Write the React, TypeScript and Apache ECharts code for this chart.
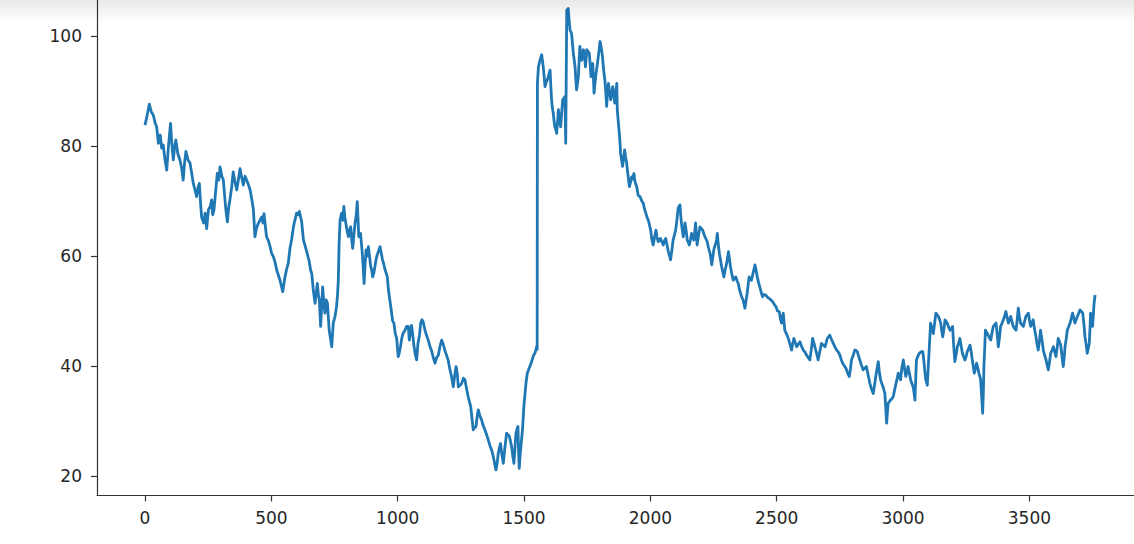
import React, { useEffect, useRef } from "react";
import * as echarts from "echarts";

// [x, y] readings of the price series, split by period
const period1: number[][] = [[0,83.8],[8,85.5],[17,87.6],[25,86.2],[33,85.6],[40,84.2],[46,83.5],[53,80.5],[60,82.0],[66,79.6],[72,80.2],[79,77.5],[86,75.6],[93,80.0],[101,84.1],[106,80.5],[112,77.5],[117,79.8],[122,81.1],[130,78.6],[138,77.5],[145,76.0],[151,73.8],[157,77.2],[162,79.0],[170,77.5],[178,76.9],[185,75.0],[191,73.2],[198,72.0],[204,70.8],[210,72.5],[215,73.2],[220,69.5],[224,67.1],[232,66.0],[238,67.8],[244,65.0],[251,68.4],[258,69.0],[264,70.2],[268,67.5],[273,68.4],[280,72.0],[286,75.0],[292,73.8],[297,76.2],[304,74.5],[310,73.8],[316,70.5],[320,68.4],[326,66.2],[331,68.8],[336,70.2],[343,72.5],[349,75.3],[356,73.5],[363,72.0],[370,74.0],[376,75.9],[383,74.2],[389,72.9],[396,74.5],[402,73.8],[409,73.0],[416,72.0],[422,70.5],[429,68.4],[435,63.5],[441,65.0],[448,65.9],[455,66.5],[462,67.1],[467,66.0],[471,67.7],[476,65.5],[481,63.5],[488,62.8],[495,61.7],[501,60.5],[508,59.9],[515,58.8],[521,57.5],[528,56.5],[534,55.6],[540,54.5],[545,53.5],[550,55.0],[554,56.2],[560,57.5],[567,58.7],[574,61.5],[580,62.9],[585,64.5],[590,65.9]];
const period2: number[][] = [[600,67.8],[607,67.5],[611,68.1],[620,66.2],[627,62.9],[634,61.8],[640,60.8],[650,59.0],[655,57.5],[660,56.8],[666,53.8],[673,51.4],[678,53.5],[682,55.0],[686,53.0],[690,52.0],[695,47.2],[699,50.5],[703,54.4],[708,51.5],[712,49.6],[717,52.0],[722,51.4],[726,48.5],[729,46.5],[734,45.0],[739,43.5],[745,47.8],[752,49.0],[758,50.8],[762,53.0],[765,55.6],[768,62.0],[772,66.5],[778,67.8],[783,66.5],[787,69.0],[791,67.0],[795,65.9],[800,64.5],[805,63.5],[810,64.8],[814,65.3],[818,63.0],[822,61.4],[826,63.5],[831,65.9],[836,67.5],[840,69.9],[846,63.5],[853,64.1],[857,62.0],[861,59.9],[864,57.5],[867,55.0],[871,58.5],[875,61.1],[880,60.0],[884,61.7],[889,59.8],[893,58.1],[897,57.5],[901,56.2],[906,57.0],[910,58.1],[915,59.5],[919,60.2],[925,61.0],[930,61.7],[935,60.5],[940,59.3],[945,58.5],[950,57.5],[955,56.8],[959,56.2],[963,54.0],[967,52.6],[972,51.0],[976,49.6],[980,48.2],[985,47.8],[990,46.0],[996,45.0],[1002,41.7],[1006,42.3],[1011,43.5],[1016,45.0],[1022,46.0],[1029,46.5],[1035,47.2],[1042,47.2],[1046,44.7],[1050,46.0],[1055,47.4],[1060,45.5],[1064,43.8],[1070,42.0],[1075,41.1],[1080,44.0],[1086,45.5],[1091,47.8],[1096,48.4],[1101,48.0],[1108,46.5],[1112,45.9],[1117,45.2],[1121,44.7],[1128,43.5],[1134,42.8],[1141,41.5],[1148,40.5],[1154,41.5],[1161,42.0],[1167,43.5],[1174,44.7],[1180,44.0],[1187,42.8],[1193,42.0]];
const period3: number[][] = [[1200,41.0],[1206,39.5],[1213,38.1],[1220,36.2],[1225,38.0],[1231,39.9],[1236,38.5],[1240,36.2],[1247,36.5],[1253,36.8],[1260,37.8],[1266,37.5],[1272,36.0],[1279,34.4],[1284,33.5],[1289,32.6],[1294,30.5],[1299,28.4],[1305,28.8],[1310,29.0],[1315,31.0],[1319,32.0],[1325,31.0],[1332,30.2],[1338,29.2],[1345,28.4],[1352,27.5],[1359,26.5],[1365,25.5],[1372,24.7],[1377,23.8],[1381,22.9],[1385,22.0],[1389,21.1],[1394,22.5],[1398,24.1],[1403,25.2],[1407,25.9],[1412,24.0],[1418,22.3],[1424,25.0],[1431,27.8],[1437,27.5],[1442,27.2],[1447,26.2],[1451,25.3],[1456,23.5],[1460,22.3],[1464,25.0],[1468,27.8],[1472,28.5],[1476,29.0],[1478,25.0],[1481,21.4],[1485,24.0],[1490,26.5],[1494,28.5],[1497,30.8],[1500,33.0],[1504,35.0],[1508,37.0],[1513,38.7],[1518,39.3],[1523,39.9],[1528,40.5],[1534,41.4],[1538,42.0],[1543,42.3],[1547,43.0],[1550,43.5],[1552,43.0]];
const period4: number[][] = [[1553,91.4],[1557,94.4],[1563,95.6],[1570,96.6],[1576,94.4],[1580,92.5],[1583,90.8],[1587,91.5],[1592,92.0],[1598,93.0],[1603,93.8],[1606,91.0],[1609,88.4],[1612,87.0],[1616,85.9],[1619,84.5],[1622,83.5],[1626,83.0],[1629,82.3],[1633,84.5],[1636,86.6],[1640,85.0],[1645,83.5],[1649,86.0],[1653,88.4],[1658,88.7],[1662,89.0],[1665,80.5],[1669,104.7],[1675,105.0],[1679,102.5],[1682,101.1],[1688,100.5],[1692,98.5],[1695,96.9],[1699,95.5],[1702,94.4],[1705,92.0],[1708,90.2],[1712,91.5],[1715,92.6],[1718,95.5],[1721,98.1],[1725,96.8],[1728,95.6],[1732,96.5],[1735,97.5],[1740,96.0],[1743,94.4],[1746,96.0],[1748,97.5],[1753,97.2],[1758,96.9],[1762,94.8],[1765,92.6],[1769,94.0],[1772,95.0],[1775,92.0],[1777,89.6],[1781,91.5],[1785,93.2],[1790,94.8],[1794,96.3],[1798,97.8],[1801,99.0],[1804,98.3],[1807,97.5],[1811,96.0],[1814,94.4],[1817,93.0],[1820,92.0],[1824,89.5],[1827,87.2],[1830,89.5],[1834,91.4],[1838,90.0],[1843,88.4],[1847,89.5],[1851,90.8],[1855,89.5],[1859,87.8],[1863,89.5],[1867,91.4],[1869,86.6],[1873,84.5],[1877,82.3],[1880,80.5],[1882,78.7],[1886,77.5],[1890,76.3],[1894,77.8],[1898,79.3],[1902,78.0],[1906,76.9],[1912,74.5],[1917,72.6],[1922,73.5],[1926,74.4],[1930,74.0],[1935,75.0],[1939,73.5],[1946,72.6],[1952,71.0],[1959,70.8],[1966,70.0],[1972,69.6],[1977,68.5],[1982,67.8],[1987,67.0],[1992,66.5],[1997,65.5]];
const period5: number[][] = [[2001,64.7],[2006,63.0],[2011,62.0],[2017,63.5],[2022,64.7],[2026,63.5],[2031,62.6],[2036,63.0],[2040,63.2],[2046,62.5],[2051,62.0],[2056,62.8],[2061,63.2],[2066,62.0],[2071,60.8],[2076,60.0],[2080,59.3],[2085,61.0],[2090,62.9],[2095,63.8],[2100,64.7],[2105,66.5],[2110,68.7],[2117,69.3],[2120,67.5],[2123,66.0],[2127,64.5],[2130,63.5],[2134,64.8],[2137,66.0],[2142,64.5],[2146,62.9],[2150,62.5],[2154,62.0],[2159,63.0],[2163,64.1],[2168,63.5],[2172,62.9],[2176,64.5],[2179,66.0],[2182,64.0],[2185,62.0],[2190,63.5],[2196,65.3],[2202,65.0],[2207,64.7],[2212,64.0],[2216,63.5],[2221,63.0],[2225,62.6],[2230,61.5],[2236,60.5],[2240,59.5],[2243,58.4],[2247,59.8],[2251,61.1],[2255,61.8],[2259,62.3],[2262,63.0],[2265,64.1],[2269,62.0],[2273,60.5],[2278,59.2],[2282,58.1],[2287,57.0],[2291,56.2],[2296,57.5],[2302,58.7],[2306,59.8],[2309,60.8],[2313,59.5],[2317,58.1],[2322,56.8],[2328,55.6],[2333,56.0],[2338,56.2],[2343,55.5],[2348,55.0],[2352,54.0],[2357,53.2],[2362,52.5],[2367,52.0],[2371,51.2],[2374,50.5],[2379,52.0],[2383,53.2],[2387,54.8],[2391,56.2],[2396,55.8],[2400,55.6],[2407,57.0],[2414,58.4],[2418,57.5],[2423,56.2],[2428,55.2],[2433,54.4],[2438,53.5],[2444,52.6],[2450,53.0],[2457,52.9],[2463,52.5],[2470,52.3],[2477,52.0],[2484,51.7],[2490,51.2],[2497,50.8]];
const period6: number[][] = [[2503,50.0],[2510,49.9],[2515,48.5],[2519,47.8],[2523,49.0],[2526,49.6],[2529,48.0],[2532,46.5],[2539,45.8],[2546,45.0],[2552,44.0],[2559,42.9],[2563,44.0],[2568,45.0],[2574,44.2],[2579,43.5],[2586,44.0],[2592,44.4],[2598,43.6],[2605,42.9],[2612,42.5],[2618,42.0],[2625,41.5],[2631,41.1],[2637,43.0],[2642,45.0],[2647,44.2],[2651,43.5],[2658,42.3],[2664,41.1],[2670,42.5],[2677,44.1],[2684,43.8],[2691,43.5],[2696,44.3],[2700,45.0],[2705,45.3],[2710,45.6],[2717,44.8],[2724,44.1],[2730,43.5],[2737,42.9],[2744,42.5],[2750,42.0],[2755,41.2],[2761,40.5],[2768,40.0],[2774,39.6],[2780,38.8],[2787,38.1],[2792,39.5],[2796,41.1],[2803,42.0],[2809,42.9],[2815,42.8],[2819,42.6],[2824,41.8],[2829,41.1],[2835,40.2],[2842,39.3],[2848,39.6],[2855,39.9],[2862,38.3],[2869,36.8],[2875,35.8],[2882,35.0],[2887,36.5],[2892,38.1],[2897,39.5],[2902,40.8],[2906,39.0],[2911,37.5],[2916,36.8],[2921,36.2],[2925,35.5],[2928,35.0],[2932,32.0],[2935,29.6],[2938,31.5],[2941,33.2],[2946,33.5],[2950,33.8],[2955,34.0],[2961,34.4],[2966,35.5],[2972,36.8],[2977,37.8],[2981,38.7],[2986,38.0],[2990,37.5],[2995,39.5],[3001,41.1],[3006,39.5],[3011,38.1],[3016,39.0],[3020,39.9],[3025,38.7],[3030,37.5],[3035,36.8],[3040,36.2],[3044,35.0],[3047,33.8],[3050,37.5],[3053,41.1],[3058,41.7],[3064,42.3],[3069,42.5],[3073,42.6],[3078,42.6],[3082,41.1],[3087,38.7],[3090,37.5],[3093,37.0],[3096,36.5]];
const period7: number[][] = [[3100,40.0],[3104,43.5],[3107,46.0],[3109,47.8],[3115,46.8],[3120,45.9],[3125,47.8],[3130,49.6],[3135,49.3],[3140,49.0],[3145,48.4],[3149,47.8],[3153,46.5],[3157,45.3],[3162,46.8],[3166,48.4],[3170,48.1],[3175,47.8],[3180,47.1],[3186,46.5],[3191,46.8],[3196,47.2],[3200,44.0],[3205,40.8],[3210,42.1],[3215,43.5],[3220,44.2],[3225,45.0],[3230,43.6],[3235,42.3],[3240,41.7],[3245,41.1],[3250,41.8],[3254,42.6],[3260,43.2],[3265,43.8],[3270,42.5],[3274,41.1],[3278,39.9],[3282,38.7],[3287,39.6],[3291,40.5],[3296,39.6],[3300,38.7],[3304,38.1],[3307,37.5],[3311,34.5],[3315,31.4],[3318,35.5],[3320,39.9],[3323,43.0],[3326,46.5],[3332,46.0],[3337,45.6],[3342,45.1],[3347,44.7],[3352,46.0],[3357,47.2],[3363,47.5],[3368,47.8],[3373,45.6],[3377,43.5],[3382,45.3],[3386,47.2],[3392,47.8],[3397,48.4],[3402,49.1],[3407,49.9],[3412,48.8],[3417,47.8],[3422,48.4],[3426,49.0],[3431,48.1],[3436,47.2],[3442,46.8],[3447,46.5],[3452,48.5],[3456,50.5],[3460,49.1],[3465,47.8],[3470,47.5],[3476,47.2],[3481,48.1],[3486,49.0],[3491,49.3],[3496,49.6],[3500,48.4],[3505,47.2],[3510,47.8],[3515,48.4],[3520,46.8],[3526,45.3],[3530,44.1],[3535,42.9],[3540,44.7],[3544,46.5],[3550,44.7],[3555,42.9],[3560,42.0],[3566,41.1],[3570,40.2],[3575,39.3],[3580,40.8],[3584,42.3],[3590,42.9],[3595,43.5],[3600,42.6],[3605,41.7],[3610,43.3],[3614,45.0],[3619,44.4],[3624,43.8],[3629,41.8],[3634,39.9],[3638,41.7],[3641,43.5],[3646,45.0],[3650,46.5],[3655,47.1],[3661,47.8],[3666,48.7],[3671,49.6],[3676,48.7],[3680,47.8],[3685,48.4],[3690,49.0],[3695,49.6],[3700,50.2],[3706,49.9],[3711,49.6],[3716,47.5],[3720,45.3],[3725,43.8],[3729,42.3],[3733,43.2],[3737,44.1],[3740,47.0],[3742,49.6],[3746,48.4],[3750,47.2],[3753,49.3],[3756,51.4],[3760,52.9]];

const xTicks = [0, 500, 1000, 1500, 2000, 2500, 3000, 3500];
const yTicks = [20, 40, 60, 80, 100];
const xRange = [-190, 3914];
const yRange = [16.45, 106.55];

export default function App() {
  const ref = useRef<HTMLDivElement>(null);
  useEffect(() => {
    if (!ref.current) return;
    const chart = echarts.init(ref.current, undefined, { renderer: "svg" });
    const data = [...period1, ...period2, ...period3, ...period4, ...period5, ...period6, ...period7];
    const axisText = { fontFamily: "DejaVu Sans", fontSize: 17, color: "#262626" };
    chart.setOption({
      animation: false,
      backgroundColor: "#ffffff",
      grid: { left: 97, right: 0, top: 0, bottom: 48.5, containLabel: false },
      graphic: [
        {
          type: "rect",
          left: 0,
          top: 0,
          z: 100,
          silent: true,
          shape: { x: 0, y: 0, width: 1134, height: 22 },
          style: {
            fill: new echarts.graphic.LinearGradient(0, 0, 0, 1, [
              { offset: 0, color: "rgba(0,0,0,0.09)" },
              { offset: 1, color: "rgba(0,0,0,0)" },
            ]),
          },
        },
      ],
      xAxis: {
        type: "value",
        min: xRange[0],
        max: xRange[1],
        splitLine: { show: false },
        axisLine: { show: true, onZero: false, lineStyle: { color: "#333", width: 1.2 } },
        axisTick: { show: true, length: 6, customValues: xTicks, lineStyle: { color: "#333", width: 1.2 } },
        axisLabel: { ...axisText, margin: 14, customValues: xTicks, formatter: (v: number) => String(v) },
      },
      yAxis: {
        type: "value",
        min: yRange[0],
        max: yRange[1],
        splitLine: { show: false },
        axisLine: { show: true, onZero: false, lineStyle: { color: "#333", width: 1.2 } },
        axisTick: { show: true, length: 6, customValues: yTicks, lineStyle: { color: "#333", width: 1.2 } },
        axisLabel: { ...axisText, margin: 15, customValues: yTicks, formatter: (v: number) => String(v) },
      },
      series: [
        {
          type: "line",
          data,
          showSymbol: false,
          lineStyle: { color: "#1f77b4", width: 2.8, join: "round" },
          itemStyle: { color: "#1f77b4" },
        },
      ],
    });
    return () => chart.dispose();
  }, []);
  return (
    <div
      ref={ref}
      style={{ position: "absolute", left: 0, top: 0, width: 1134, height: 544 }}
    />
  );
}
